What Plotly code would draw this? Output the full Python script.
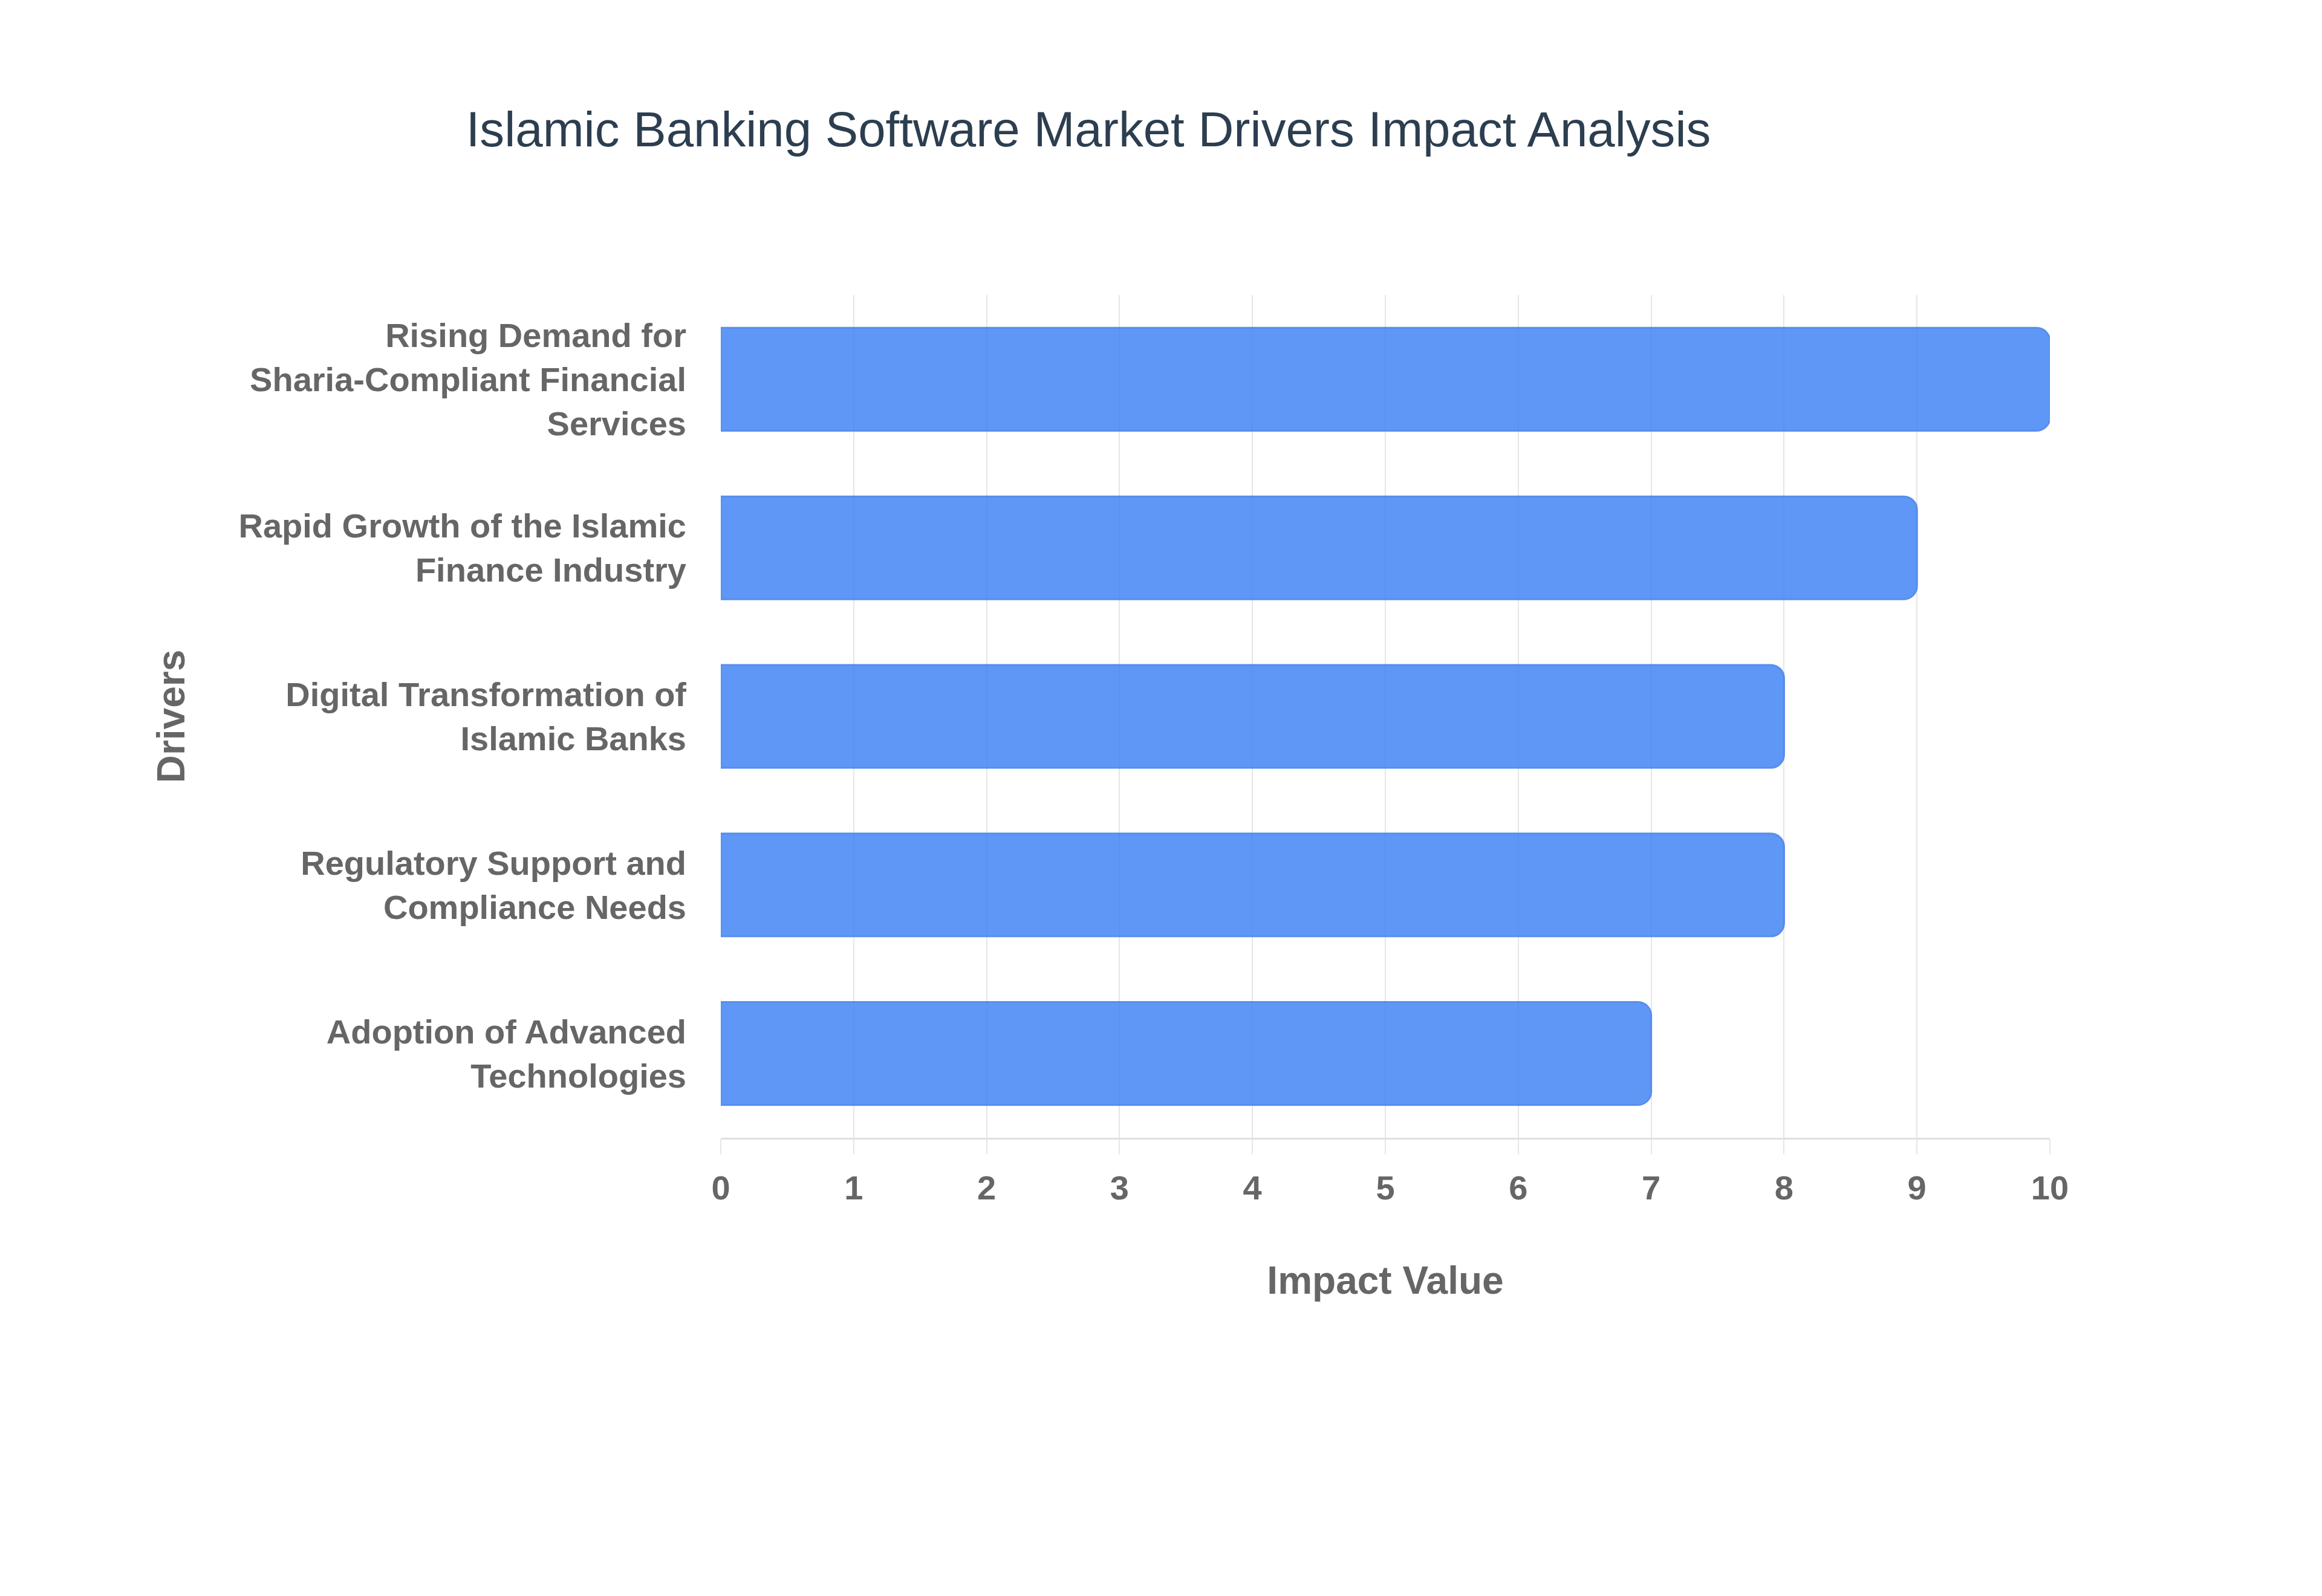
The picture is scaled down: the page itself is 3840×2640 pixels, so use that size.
import plotly.graph_objects as go

# drivers, listed top to bottom as they appear on the chart
drivers = [
    "Rising Demand for<br>Sharia-Compliant Financial<br>Services",
    "Rapid Growth of the Islamic<br>Finance Industry",
    "Digital Transformation of<br>Islamic Banks",
    "Regulatory Support and<br>Compliance Needs",
    "Adoption of Advanced<br>Technologies",
]
impact_values = [10, 9, 8, 8, 7]
x_ticks = [0, 1, 2, 3, 4, 5, 6, 7, 8, 9, 10]

S = 4  # page is drawn at 4x a 960x660 layout
font_family = "Arial, Liberation Sans, sans-serif"
grey = "#666666"

fig = go.Figure()
fig.add_trace(go.Bar(x=impact_values,
                     y=drivers,
                     orientation='h',
                     marker=dict(color='#4285F4', line=dict(color='#3b7bea', width=0.75 * S)),
                     opacity=0.85))

fig.update_layout(width=960 * S, height=660 * S,
                  title=dict(text="Islamic Banking Software Market Drivers Impact Analysis",
                             x=1792 / 3840, xanchor='center',
                             y=1 - 205 / 2640, yanchor='middle',
                             font=dict(family=font_family, size=20.4 * S, color='#2c3e50')),
                  margin=dict(l=1184, r=458, t=480, b=766, autoexpand=False),
                  plot_bgcolor='white',
                  paper_bgcolor='white',
                  bargap=0.39,
                  barcornerradius=5.5 * S,
                  showlegend=False)

fig.update_xaxes(title=dict(text="Impact Value", standoff=25 * S,
                            font=dict(family=font_family, size=16 * S, color=grey, weight='bold')),
                 range=[0, 10],
                 tickvals=x_ticks,
                 tickfont=dict(family=font_family, size=14 * S, color=grey, weight='bold'),
                 showgrid=True, gridcolor='#e6e6e6', gridwidth=0.5 * S,
                 ticks='outside', ticklen=6 * S, tickcolor='#e6e6e6', tickwidth=0.5 * S,
                 ticklabelstandoff=8,
                 showline=True, linecolor='#e0e0e0', linewidth=0.75 * S,
                 zeroline=False, automargin=False)

fig.update_yaxes(title=dict(text="Drivers", standoff=17 * S,
                            font=dict(family=font_family, size=16 * S, color=grey, weight='bold')),
                 autorange='reversed',
                 tickfont=dict(family=font_family, size=14 * S, color=grey, weight='bold'),
                 showgrid=False, ticks='', ticklabelstandoff=14 * S,
                 showline=False, zeroline=False, automargin=False)

fig.write_html("out.html")
